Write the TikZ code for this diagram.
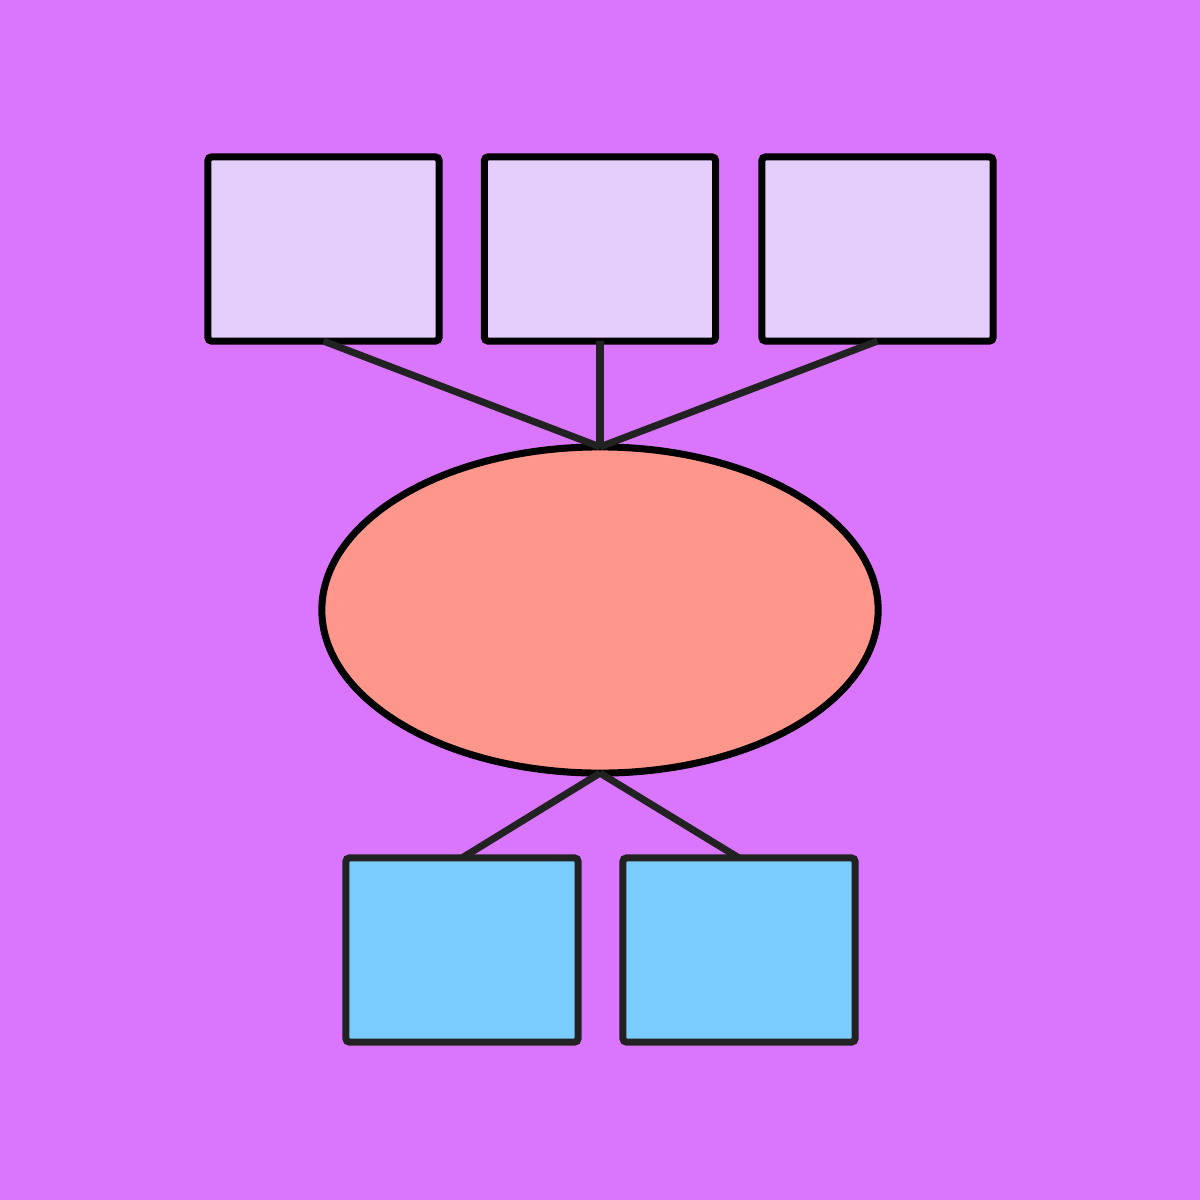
\documentclass[tikz,border=0pt]{standalone}
\usetikzlibrary{shapes.geometric}
\definecolor{bgpurple}{RGB}{218,117,253}
\definecolor{lav}{RGB}{229,206,252}
\definecolor{salmon}{RGB}{255,150,140}
\definecolor{skyb}{RGB}{122,204,253}
\definecolor{dk}{RGB}{34,34,34}
\begin{document}
\begin{tikzpicture}[x=0.01cm,y=-0.01cm,
  topbox/.style={draw=black,fill=lav,line width=2pt,rounded corners=1pt,minimum width=2.31cm,minimum height=1.84cm,inner sep=0pt,outer sep=0pt},
  botbox/.style={draw=dk,fill=skyb,line width=2pt,rounded corners=1pt,minimum width=2.32cm,minimum height=1.84cm,inner sep=0pt,outer sep=0pt},
  hub/.style={ellipse,draw=black,fill=salmon,line width=2pt,minimum width=5.56cm,minimum height=3.26cm,inner sep=0pt,outer sep=0pt},
  link/.style={draw=dk,line width=2pt}]
\fill[bgpurple] (0,0) rectangle (1200,1200);
\useasboundingbox (0,0) rectangle (1200,1200);
\node[hub] (e) at (600,610) {};
\node[topbox] (t1) at (323.5,249) {};
\node[topbox] (t2) at (600,249) {};
\node[topbox] (t3) at (877.5,249) {};
\node[botbox] (b1) at (462,950) {};
\node[botbox] (b2) at (739,950) {};
\draw[link] (t1.south) -- (e.north);
\draw[link] (t2.south) -- (e.north);
\draw[link] (t3.south) -- (e.north);
\draw[link] (e.south) -- (b1.north);
\draw[link] (e.south) -- (b2.north);
\end{tikzpicture}
\end{document}
